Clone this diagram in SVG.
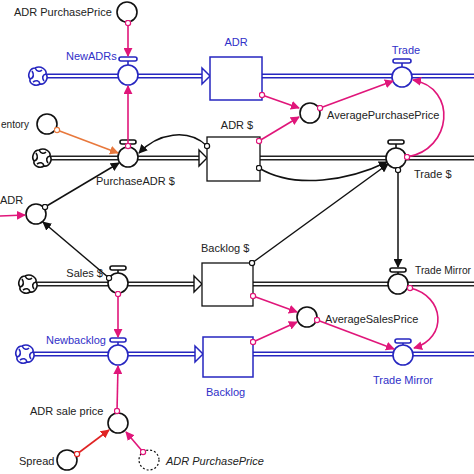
<svg xmlns="http://www.w3.org/2000/svg" width="474" height="474" viewBox="0 0 474 474">
<defs>
<style>
text{font-family:"Liberation Sans",Arial,sans-serif;font-size:11px;fill:#222}
.bl{fill:#3030c8}
.it{font-style:italic}
.aux{fill:#fff;stroke:#111;stroke-width:1.6}
.ghost{fill:#fff;stroke:#111;stroke-width:1.2;stroke-dasharray:2 2}
.stockB{fill:#fff;stroke:#2626c0;stroke-width:1.5}
.stockK{fill:#fff;stroke:#111;stroke-width:1.3}
.pipeB{stroke:#2626c0;stroke-width:5;fill:none}
.pipeK{stroke:#222;stroke-width:5;fill:none}
.pipeIn{stroke:#fff;stroke-width:2;fill:none}
.vB{fill:#fff;stroke:#2626c0;stroke-width:1.6}
.vK{fill:#fff;stroke:#111;stroke-width:1.6}
.pk{stroke:#e0167a;stroke-width:1.6;fill:none;marker-start:url(#oP);marker-end:url(#aP)}
.pk0{stroke:#e0167a;stroke-width:1.6;fill:none;marker-end:url(#aP)}
.rd{stroke:#e02424;stroke-width:1.6;fill:none;marker-start:url(#oR);marker-end:url(#aR)}
.or{stroke:#e8783c;stroke-width:1.6;fill:none;marker-start:url(#oO);marker-end:url(#aO)}
.bk{stroke:#111;stroke-width:1.5;fill:none;marker-start:url(#oK);marker-end:url(#aK)}
.cloudB{fill:#fff;stroke:#2626c0;stroke-width:1.6}
.cloudK{fill:#fff;stroke:#111;stroke-width:1.6}
</style>
<marker id="aP" viewBox="0 0 10 10" refX="9" refY="5" markerWidth="9" markerHeight="9" markerUnits="userSpaceOnUse" orient="auto"><path d="M0,0 L10,5 L0,10 z" fill="#e0167a"/></marker>
<marker id="aR" viewBox="0 0 10 10" refX="9" refY="5" markerWidth="9" markerHeight="9" markerUnits="userSpaceOnUse" orient="auto"><path d="M0,0 L10,5 L0,10 z" fill="#e02424"/></marker>
<marker id="aO" viewBox="0 0 10 10" refX="9" refY="5" markerWidth="9" markerHeight="9" markerUnits="userSpaceOnUse" orient="auto"><path d="M0,0 L10,5 L0,10 z" fill="#e8783c"/></marker>
<marker id="aK" viewBox="0 0 10 10" refX="9" refY="5" markerWidth="9" markerHeight="9" markerUnits="userSpaceOnUse" orient="auto"><path d="M0,0 L10,5 L0,10 z" fill="#111"/></marker>
<marker id="oP" viewBox="0 0 8 8" refX="4" refY="4" markerWidth="7" markerHeight="7" markerUnits="userSpaceOnUse"><circle cx="4" cy="4" r="3" fill="#fff" stroke="#e0167a" stroke-width="1.4"/></marker>
<marker id="oR" viewBox="0 0 8 8" refX="4" refY="4" markerWidth="7" markerHeight="7" markerUnits="userSpaceOnUse"><circle cx="4" cy="4" r="3" fill="#fff" stroke="#e02424" stroke-width="1.4"/></marker>
<marker id="oO" viewBox="0 0 8 8" refX="4" refY="4" markerWidth="7" markerHeight="7" markerUnits="userSpaceOnUse"><circle cx="4" cy="4" r="3" fill="#fff" stroke="#e8783c" stroke-width="1.4"/></marker>
<marker id="oK" viewBox="0 0 8 8" refX="4" refY="4" markerWidth="7" markerHeight="7" markerUnits="userSpaceOnUse"><circle cx="4" cy="4" r="3" fill="#fff" stroke="#111" stroke-width="1.4"/></marker>
<g id="cloudShape"><path d="M-3,-8 C3,-11 9,-6 8,-2 C11,2 7,9 2,8 C-2,11 -9,8 -8,3 C-11,-1 -8,-8 -3,-8 z"/><path d="M-3,-8 C-1,-4 2,-4 4,-6 M8,-2 C4,-1 4,2 6,5 M2,8 C1,4 -2,4 -5,6 M-8,3 C-4,2 -4,-2 -6,-5" fill="none"/></g>
</defs>
<rect width="474" height="474" fill="#fff"/>

<!-- pipes (flows) -->
<g id="pipes">
<line class="pipeB" x1="46" y1="76" x2="202" y2="76"/><line class="pipeIn" x1="46" y1="76" x2="203" y2="76"/>
<polygon points="202,68 210,76 202,84" fill="#fff" stroke="#2626c0" stroke-width="1.5"/>
<line class="pipeB" x1="262" y1="76" x2="474" y2="76"/><line class="pipeIn" x1="262" y1="76" x2="474" y2="76"/>

<line class="pipeK" x1="50" y1="158" x2="199" y2="158"/><line class="pipeIn" x1="50" y1="158" x2="200" y2="158"/>
<polygon points="199,150 207,158 199,166" fill="#fff" stroke="#111" stroke-width="1.4"/>
<line class="pipeK" x1="260" y1="158" x2="474" y2="158"/><line class="pipeIn" x1="260" y1="158" x2="474" y2="158"/>

<line class="pipeK" x1="36" y1="284" x2="194" y2="284"/><line class="pipeIn" x1="36" y1="284" x2="195" y2="284"/>
<polygon points="194,276 202,284 194,292" fill="#fff" stroke="#111" stroke-width="1.4"/>
<line class="pipeK" x1="253" y1="284" x2="474" y2="284"/><line class="pipeIn" x1="253" y1="284" x2="474" y2="284"/>

<line class="pipeB" x1="33" y1="354" x2="195" y2="354"/><line class="pipeIn" x1="33" y1="354" x2="196" y2="354"/>
<polygon points="195,346 203,354 195,362" fill="#fff" stroke="#2626c0" stroke-width="1.5"/>
<line class="pipeB" x1="253" y1="354" x2="474" y2="354"/><line class="pipeIn" x1="253" y1="354" x2="474" y2="354"/>
</g>

<!-- clouds -->
<g id="cloud1" class="cloudB" transform="translate(38,76)"><use href="#cloudShape"/></g>
<g id="cloud2" class="cloudK" transform="translate(42,158)"><use href="#cloudShape"/></g>
<g id="cloud3" class="cloudK" transform="translate(28,284)"><use href="#cloudShape"/></g>
<g id="cloud4" class="cloudB" transform="translate(25,354)"><use href="#cloudShape"/></g>

<!-- stocks -->
<g id="ADR"><rect class="stockB" x="210" y="57" width="52" height="43"/><text class="bl" x="236" y="46" text-anchor="middle">ADR</text></g>
<g id="ADRdollar"><rect class="stockK" x="207" y="137" width="53" height="44"/><text x="237" y="129" text-anchor="middle">ADR $</text></g>
<g id="BacklogDollar"><rect class="stockK" x="202" y="263" width="51" height="43"/><text x="201" y="252">Backlog $</text></g>
<g id="Backlog"><rect class="stockB" x="203" y="337" width="50" height="40"/><text class="bl" x="206" y="396">Backlog</text></g>

<!-- valves -->
<g id="NewADRs"><line x1="128" y1="60" x2="128" y2="65" stroke="#2626c0" stroke-width="1.6"/><rect class="vB" x="119" y="57" width="18" height="4" rx="2"/><circle class="vB" cx="128" cy="75" r="10"/><text class="bl" x="66" y="60">NewADRs</text></g>
<g id="Trade"><line x1="402" y1="62" x2="402" y2="67" stroke="#2626c0" stroke-width="1.6"/><rect class="vB" x="393" y="59" width="18" height="4" rx="2"/><circle class="vB" cx="402" cy="77" r="10"/><text class="bl" x="406" y="54" text-anchor="middle">Trade</text></g>
<g id="PurchaseADR"><line x1="128" y1="143" x2="128" y2="148" stroke="#111" stroke-width="1.6"/><rect class="vK" x="120" y="140" width="16" height="4" rx="2" fill="#666"/><circle class="vK" cx="128" cy="157" r="10"/><text x="96" y="185">PurchaseADR $</text></g>
<g id="TradeDollar"><line x1="396" y1="143" x2="396" y2="148" stroke="#111" stroke-width="1.6"/><rect class="vK" x="388" y="140" width="16" height="4" rx="2"/><circle class="vK" cx="396" cy="158" r="10"/><text x="414" y="178">Trade $</text></g>
<g id="SalesDollar"><line x1="118" y1="269" x2="118" y2="274" stroke="#111" stroke-width="1.6"/><rect class="vK" x="110" y="266" width="16" height="4" rx="2"/><circle class="vK" cx="118" cy="283" r="10"/><text x="103" y="277" text-anchor="end">Sales $</text></g>
<g id="TradeMirrorK"><line x1="398" y1="271" x2="398" y2="274" stroke="#111" stroke-width="1.6"/><rect class="vK" x="390" y="268" width="16" height="4" rx="2" fill="#222"/><circle class="vK" cx="398" cy="284" r="10"/><text x="415" y="274" textLength="56" lengthAdjust="spacingAndGlyphs">Trade Mirror</text></g>
<g id="Newbacklog"><line x1="118" y1="341" x2="118" y2="345" stroke="#2626c0" stroke-width="1.6"/><rect class="vB" x="110" y="338" width="16" height="4" rx="2"/><circle class="vB" cx="118" cy="355" r="10"/><text class="bl" x="46" y="344">Newbacklog</text></g>
<g id="TradeMirrorB"><line x1="403" y1="342" x2="403" y2="345" stroke="#2626c0" stroke-width="1.6"/><rect class="vB" x="395" y="339" width="16" height="4" rx="2"/><circle class="vB" cx="403" cy="355" r="10"/><text class="bl" x="403" y="384" text-anchor="middle">Trade Mirror</text></g>

<!-- auxiliaries -->
<g id="ADRPurchasePrice"><circle class="aux" cx="127" cy="12" r="10"/><text x="14" y="16">ADR PurchasePrice</text></g>
<g id="AveragePurchasePrice"><circle class="aux" cx="310" cy="113" r="10"/><text x="327" y="119">AveragePurchasePrice</text></g>
<g id="Inventory"><circle class="aux" cx="47" cy="124" r="10"/><text x="1" y="128" textLength="28" lengthAdjust="spacingAndGlyphs">entory</text></g>
<g id="ADRaux"><circle class="aux" cx="36" cy="214" r="10"/><text x="0" y="204">ADR</text></g>
<g id="AverageSalesPrice"><circle class="aux" cx="307" cy="317" r="10"/><text x="325" y="323">AverageSalesPrice</text></g>
<g id="ADRsaleprice"><circle class="aux" cx="118" cy="423" r="10"/><text x="30" y="415">ADR sale price</text></g>
<g id="Spread"><circle class="aux" cx="67" cy="460" r="10"/><text x="19" y="465">Spread</text></g>
<g id="ADRPurchasePriceGhost"><circle class="ghost" cx="149" cy="460" r="10"/><text class="it" x="166" y="465">ADR PurchasePrice</text></g>

<!-- connectors -->
<g id="connectors">
<path class="pk" d="M128,23 L128,56"/>
<path class="pk" d="M128,146 L128,86"/>
<path class="pk" d="M262,95 L299,108"/>
<path class="pk" d="M259,141 L299,117"/>
<path class="pk" d="M320,108 L393,81"/>
<path class="pk" d="M407,157 C452,150 458,88 413,80"/>
<path class="pk" d="M118,294 L118,337"/>
<path class="pk" d="M253,296 L297,312"/>
<path class="pk" d="M253,342 L297,322"/>
<path class="pk" d="M317,320 L394,349"/>
<path class="pk" d="M410,288 C445,296 448,338 414,348"/>
<path class="pk" d="M117,411 L118,366"/>
<path class="pk" d="M143,452 L126,432"/>
<path class="pk0" d="M0,216 L25,215"/>
<path class="rd" d="M77,454 L109,430"/>
<path class="or" d="M57,130 L118,153"/>
<path class="bk" d="M45,207 L119,163"/>
<path class="bk" d="M109,278 L43,222"/>
<path class="bk" d="M207,146 C188,128 158,133 139,153"/>
<path class="bk" d="M259,168 C295,190 350,180 387,162"/>
<path class="bk" d="M252,263 L388,164"/>
<path class="bk" d="M398,170 L398,267"/>
</g>
</svg>
